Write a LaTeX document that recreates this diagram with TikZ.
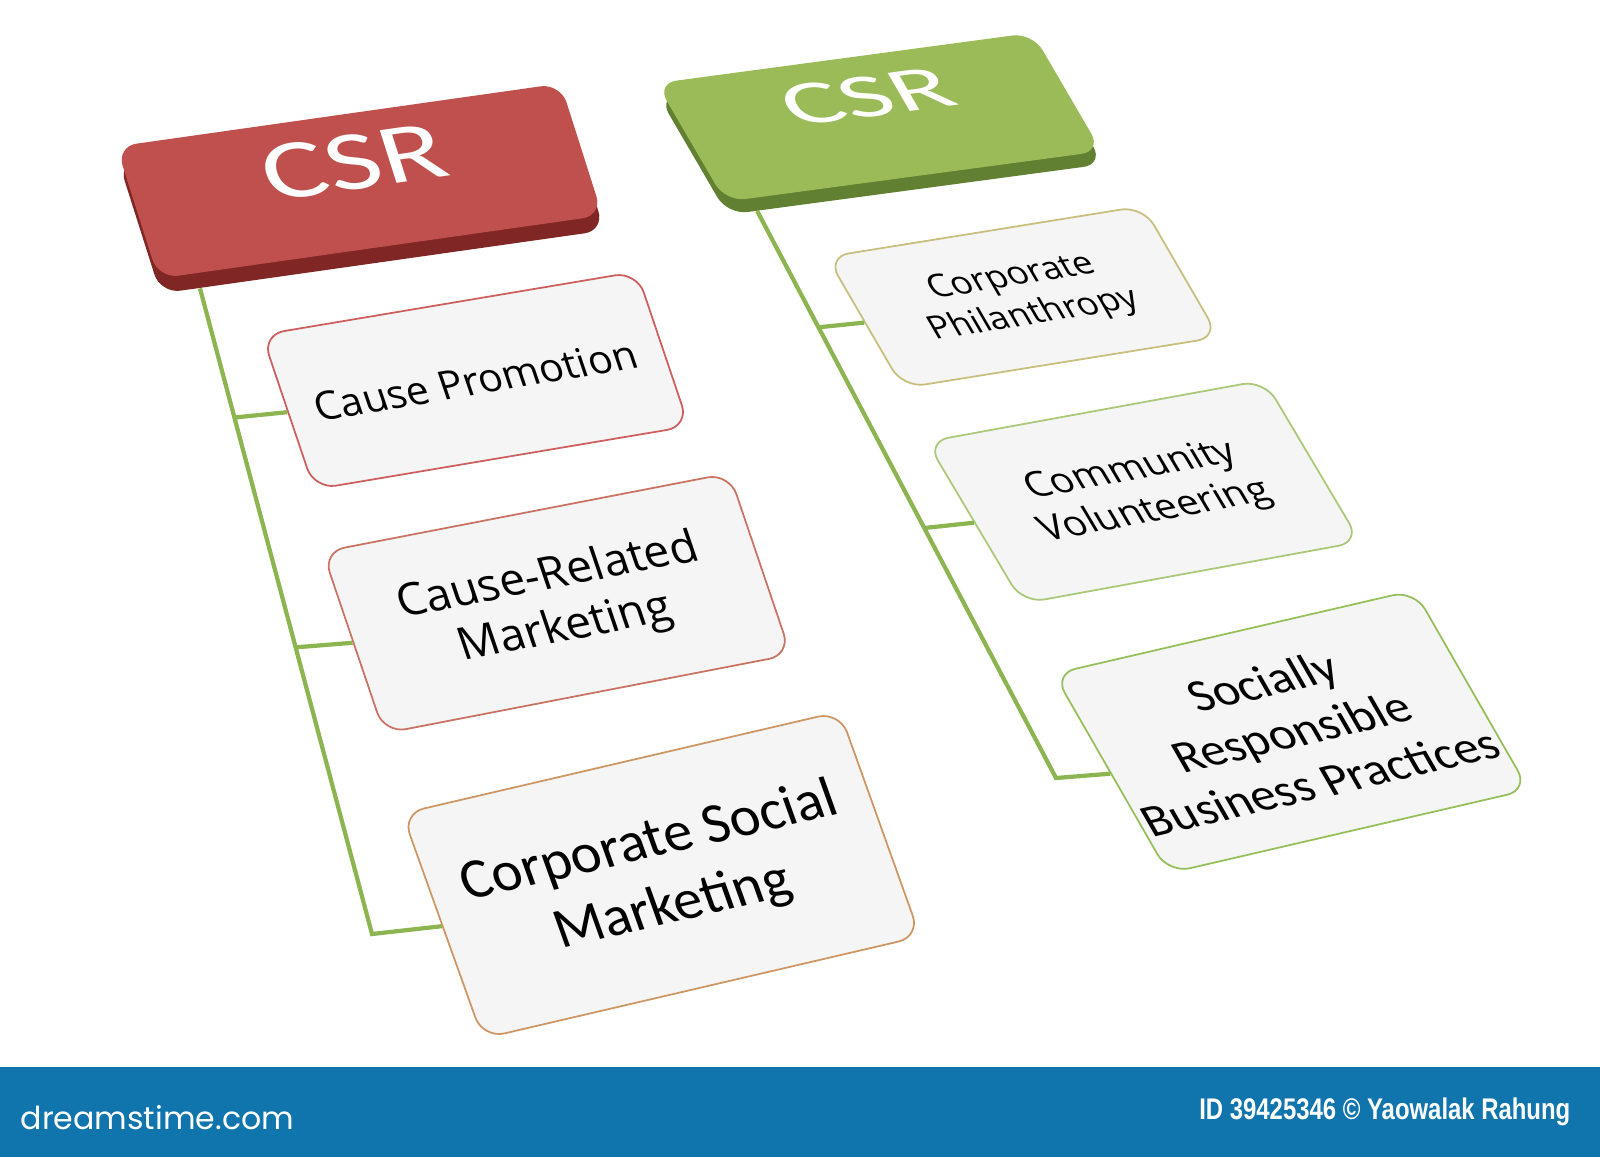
\documentclass[tikz,border=0pt]{standalone}
\usepackage{fontspec}
\setmainfont{Carlito}
\newfontfamily\opensans{Open Sans}
\newfontfamily\poppins{Poppins}
\newfontfamily\libsans{Liberation Sans}
\usetikzlibrary{calc}
\definecolor{redtop}{RGB}{192,80,77}
\definecolor{redside}{RGB}{128,38,36}
\definecolor{greentop}{RGB}{155,187,89}
\definecolor{greenside}{RGB}{98,128,50}
\definecolor{branchgreen}{RGB}{140,180,80}
\definecolor{boxgrey}{RGB}{245,245,245}
\definecolor{bannerblue}{RGB}{16,116,173}
\definecolor{lineA}{RGB}{205,95,95}
\definecolor{lineB}{RGB}{200,115,100}
\definecolor{lineC}{RGB}{205,150,100}
\definecolor{lineD}{RGB}{200,190,125}
\definecolor{lineE}{RGB}{170,200,120}
\definecolor{lineF}{RGB}{150,190,90}

\begin{document}
\begin{tikzpicture}[
  slab/.style={rounded corners=0.2cm, inner sep=0pt, transform shape, text=white},
  item/.style={draw, rounded corners=0.22cm, fill=boxgrey, line width=0.5pt, inner sep=0pt, align=center, transform shape},
  branch/.style={branchgreen, line width=1.2pt}
]
\useasboundingbox (0,0) rectangle (16,-11.57);

% red CSR slab
\begin{scope}[shift={(0.02,-0.15)}, cm={0.990,0.1405,-0.218,0.686,(3.595,-1.81)}]
  \fill[redside, rounded corners=0.2cm] (-2.2425,-0.962) rectangle (2.2425,0.962);
\end{scope}
\begin{scope}[cm={0.990,0.1405,-0.218,0.686,(3.595,-1.81)}]
  \node[slab, fill=redtop, minimum width=4.485cm, minimum height=1.924cm, text depth=0.56cm, font=\fontsize{34}{34}\selectfont] (redcsr) at (0,0) {CSR};
\end{scope}

% green CSR slab
\begin{scope}[shift={(0.02,-0.13)}, cm={0.991,0.133,-0.317,0.544,(8.79,-1.1725)}]
  \fill[greenside, rounded corners=0.2cm] (-1.897,-1.088) rectangle (1.897,1.088);
\end{scope}
\begin{scope}[cm={0.991,0.133,-0.317,0.544,(8.79,-1.1725)}]
  \node[slab, fill=greentop, minimum width=3.794cm, minimum height=2.176cm, text depth=0.76cm, font=\fontsize{31}{31}\selectfont] (greencsr) at (0,0) {CSR};
\end{scope}

% left column
\begin{scope}[cm={0.986,0.166,-0.320,0.948,(4.755,-3.805)}]
  \node[item, draw=lineA, minimum width=3.80cm, minimum height=1.63cm, font=\opensans\fontsize{11.5}{13}\selectfont] (causeprom) at (0,0) {Cause Promotion};
\end{scope}
\begin{scope}[cm={0.982,0.190,-0.321,0.947,(5.5675,-6.0325)}]
  \node[item, draw=lineB, minimum width=4.14cm, minimum height=1.916cm, font=\opensans\fontsize{13}{15.5}\selectfont] (crm) at (0,0) {Cause-Related\\Marketing};
\end{scope}
\begin{scope}[cm={0.974,0.227,-0.337,0.941,(6.6125,-8.75)}]
  \node[item, draw=lineC, minimum width=4.49cm, minimum height=2.39cm, font=\fontsize{16.4}{19.5}\selectfont] (csm) at (0,0) {Corporate Social\\Marketing};
\end{scope}

% right column
\begin{scope}[cm={0.987,0.159,-0.502,0.865,(10.23,-2.97)}]
  \node[item, draw=lineD, minimum width=3.20cm, minimum height=1.515cm, font=\opensans\fontsize{10}{12.5}\selectfont] (philan) at (0,0) {Corporate\\Philanthropy};
\end{scope}
\begin{scope}[cm={0.984,0.1795,-0.511,0.860,(11.435,-4.9175)}]
  \node[item, draw=lineE, minimum width=3.43cm, minimum height=1.88cm, font=\opensans\fontsize{11}{13.5}\selectfont] (volunt) at (0,0) {Community\\Volunteering};
\end{scope}
\begin{scope}[cm={0.974,0.2257,-0.498,0.867,(12.9125,-7.3175)}]
  \node[item, draw=lineF, minimum width=3.70cm, minimum height=2.30cm, font=\fontsize{14}{16.5}\selectfont] (srbp) at (0,0) {Socially\\Responsible\\Business Practices};
\end{scope}

% connectors
\coordinate (ltop) at ($(redcsr.south west)!0.09!(redcsr.south east)+(0.02,-0.15)$);
\coordinate (lbot) at (3.72,-9.34);
\draw[branch] (ltop) -- (lbot) -- (csm.west);
\draw[branch] ($(ltop)!0.20!(lbot)$) -- (causeprom.west);
\draw[branch] ($(ltop)!0.556!(lbot)$) -- (crm.west);

\coordinate (rtop) at ($(greencsr.south west)!0.08!(greencsr.south east)+(0.02,-0.13)$);
\coordinate (rbot) at (10.56,-7.78);
\draw[branch] (rtop) -- (rbot) -- (srbp.west);
\draw[branch] ($(rtop)!0.205!(rbot)$) -- (philan.west);
\draw[branch] ($(rtop)!0.559!(rbot)$) -- (volunt.west);

% banner
\fill[bannerblue] (0,-10.67) rectangle (16,-11.57);
\node[anchor=base west, text=white, inner sep=0pt, font=\poppins\fontsize{9}{11}\selectfont] (site) at (0.2,-11.29) {dreamstime.com};
\node[anchor=east, text=white, inner sep=0pt, font=\libsans\bfseries\fontsize{8.5}{10}\selectfont] (credit) at (15.71,-11.12) {\scalebox{0.8}[1]{ID 39425346 © Yaowalak Rahung}};
\end{tikzpicture}
\end{document}
